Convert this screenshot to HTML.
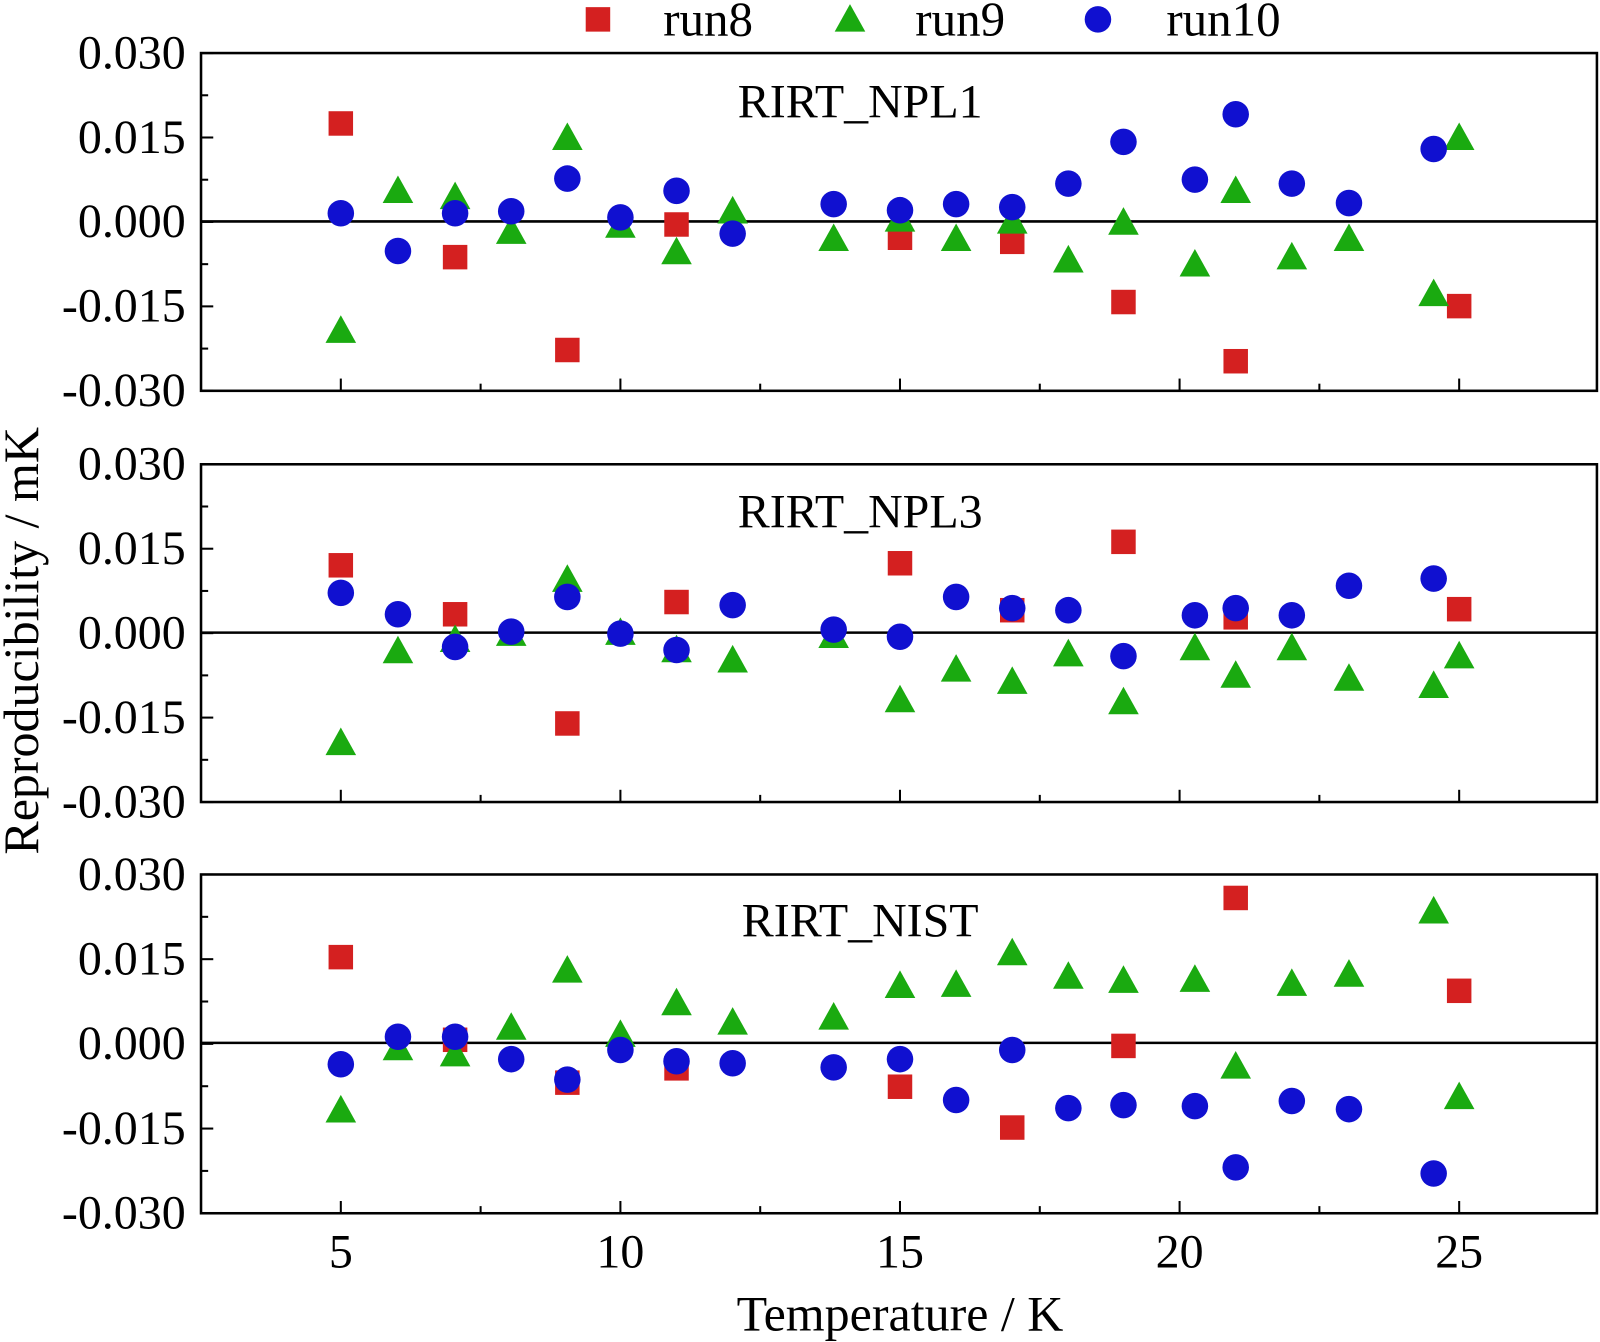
<!DOCTYPE html>
<html><head><meta charset="utf-8"><style>html,body{margin:0;padding:0;background:#fff}svg{display:block}</style></head>
<body>
<svg id="s" width="1600" height="1342" xmlns="http://www.w3.org/2000/svg" font-family="Liberation Serif, serif" font-size="47">
<g id="g" transform="scale(1.0204)"></g>
</svg>
<script>
const NS="http://www.w3.org/2000/svg",g=document.getElementById('g');
function el(t,a,txt){const e=document.createElementNS(NS,t);for(const k in a)e.setAttribute(k,a[k]);if(txt!==undefined)e.textContent=txt;g.appendChild(e);return e;}
const RED="#d42020",GRN="#1aaa10",BLU="#1010d0";
function sq(x,y){el('rect',{x:x-12,y:y-12,width:24,height:24,fill:RED});}
function tri(x,y){el('polygon',{points:`${x},${y-15} ${x-15},${y+12} ${x+15},${y+12}`,fill:GRN});}
function ci(x,y){el('circle',{cx:x,cy:y,r:13,fill:BLU});}
const panels=[
{t:52,b:383,z:217,name:"RIRT_NPL1",ny:100,
r:[[334,121],[446,252],[556,343],[663,220],[882,233],[992,237],[1101,296],[1211,354],[1430,300]],
gr:[[334,324],[390,187],[446,193],[501,227],[556,135],[608,221],[663,247],[718,207],[817,234],[882,215],[937,234],[992,217],[1047,255],[1101,218],[1171,259],[1211,187],[1266,252],[1322,234],[1405,288],[1430,135]],
bl:[[334,209],[390,246],[446,209],[501,207],[556,175],[608,213],[663,187],[718,229],[817,200],[882,206],[937,200],[992,203],[1047,180],[1101,139],[1171,176],[1211,112],[1266,180],[1322,199],[1405,146]]},
{t:455,b:786,z:620,name:"RIRT_NPL3",ny:502,
r:[[334,554],[446,602],[556,709],[663,590],[882,552],[992,598],[1101,531],[1211,605],[1430,597]],
gr:[[334,728],[390,638],[446,627],[501,621],[556,568],[608,620],[663,637],[718,647],[817,623],[882,686],[937,656],[992,668],[1047,641],[1101,688],[1171,635],[1211,662],[1266,635],[1322,665],[1405,672],[1430,643]],
bl:[[334,581],[390,602],[446,634],[501,619],[556,585],[608,621],[663,637],[718,593],[817,617],[882,624],[937,585],[992,596],[1047,598],[1101,643],[1171,603],[1211,596],[1266,603],[1322,574],[1405,567]]},
{t:857,b:1189,z:1022,name:"RIRT_NIST",ny:903,
r:[[334,938],[446,1019],[556,1061],[663,1047],[882,1065],[992,1105],[1101,1025],[1211,880],[1430,971]],
gr:[[334,1088],[390,1027],[446,1033],[501,1007],[556,951],[608,1014],[663,983],[718,1002],[817,997],[882,966],[937,965],[992,934],[1047,957],[1101,961],[1171,960],[1211,1045],[1266,964],[1322,955],[1405,893],[1430,1075]],
bl:[[334,1043],[390,1016],[446,1016],[501,1038],[556,1058],[608,1029],[663,1040],[718,1042],[817,1046],[882,1038],[937,1078],[992,1029],[1047,1086],[1101,1083],[1171,1084],[1211,1144],[1266,1079],[1322,1087],[1405,1150]]}];
const L=197,R=1565,labs=["0.030","0.015","0.000","-0.015","-0.030"];
panels.forEach(p=>{
 el('rect',{x:L,y:p.t,width:R-L,height:p.b-p.t,fill:"none",stroke:"#000","stroke-width":2.5});
 el('line',{x1:L,x2:R,y1:p.z,y2:p.z,stroke:"#000","stroke-width":2.5});
 const h=(p.b-p.t)/8;
 for(let i=0;i<=8;i++){const y=p.t+i*h;el('line',{x1:L,x2:L+(i%2?7:12),y1:y,y2:y,stroke:"#000","stroke-width":2});
  if(i%2==0)el('text',{x:182,y:y+15,"text-anchor":"end"},labs[i/2]);}
 for(let k=2.5;k<=27.5;k+=2.5){const x=334+(k-5)*54.8;if(x<=L+1||x>=R-1)continue;el('line',{x1:x,x2:x,y1:p.b,y2:p.b-((k%5==0)?12:7),stroke:"#000","stroke-width":2});}
 el('text',{x:843,y:p.ny+15,"text-anchor":"middle"},p.name);
 p.r.forEach(a=>sq(...a));p.gr.forEach(a=>tri(...a));p.bl.forEach(a=>ci(...a));
});
[5,10,15,20,25].forEach(k=>el('text',{x:334+(k-5)*54.8,y:1242,"text-anchor":"middle"},k));
el('text',{x:882,y:1304,"text-anchor":"middle","font-size":49},"Temperature / K");
el('text',{x:0,y:0,"text-anchor":"middle","font-size":49,transform:"translate(37,628) rotate(-90)"},"Reproducibility / mK");
sq(586,19);el('text',{x:650,y:35,"font-size":48},"run8");
tri(833,19);el('text',{x:897,y:35,"font-size":48},"run9");
ci(1076,19);el('text',{x:1143,y:35,"font-size":48},"run10");
</script>
</body></html>
